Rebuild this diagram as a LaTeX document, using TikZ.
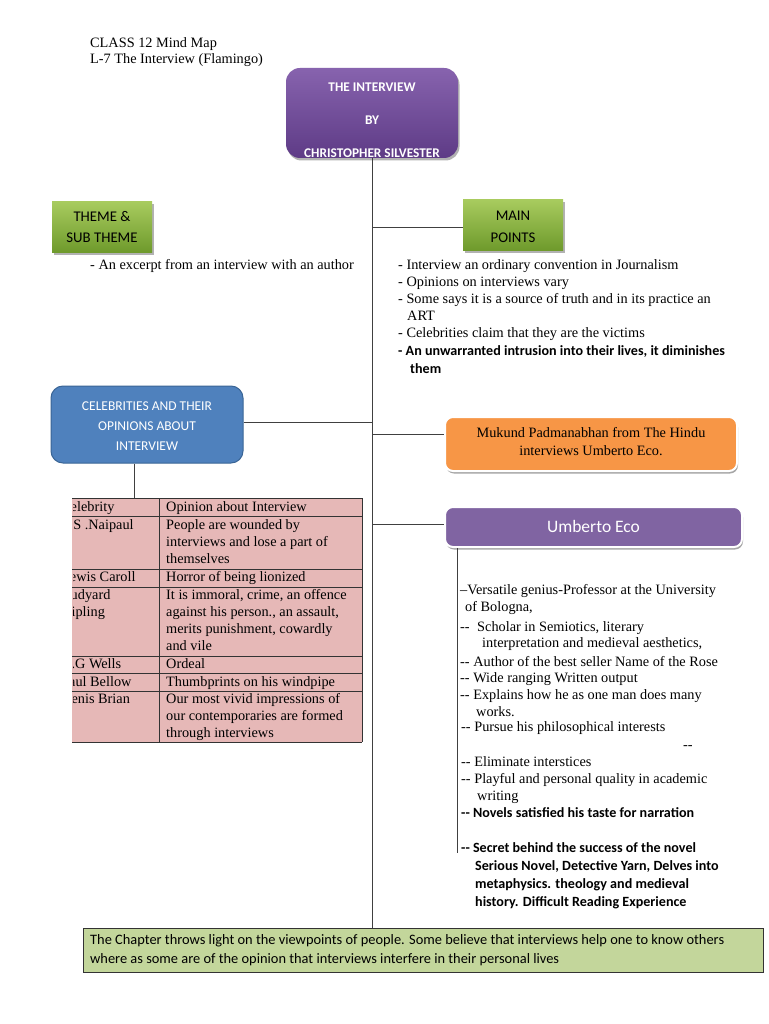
\documentclass[tikz,border=0pt]{standalone}
\usepackage{fontspec}
\setmainfont{Liberation Serif}
\newfontfamily\calfont{Carlito}
\usetikzlibrary{shadows}
\definecolor{ttltop}{HTML}{8763AE}
\definecolor{ttlbot}{HTML}{5E3B86}
\definecolor{grtop}{HTML}{A8CB5E}
\definecolor{grbot}{HTML}{6E9A2C}
\definecolor{celblue}{HTML}{4F81BD}
\definecolor{celedge}{HTML}{3A6596}
\definecolor{orng}{HTML}{F79646}
\definecolor{umbcol}{HTML}{8064A2}
\definecolor{pinkcell}{HTML}{E6B8B7}
\definecolor{sumgreen}{HTML}{C3D69B}
\begin{document}
\begin{tikzpicture}[x=1pt,y=-1pt,
  conn/.style={draw=black!75, line width=1pt},
  serif/.style={font=\fontsize{14.3}{17}\selectfont, inner sep=0pt, align=left, anchor=base west},
  calb/.style={font=\calfont\bfseries\fontsize{14.1}{18}\selectfont, inner sep=0pt, align=left, anchor=base west},
  softshadow/.style={drop shadow={shadow xshift=1.5pt, shadow yshift=-2.5pt, opacity=0.3, fill=black}},
  titlebox/.style={rectangle, rounded corners=14pt, top color=ttltop, bottom color=ttlbot, draw=none, minimum width=172pt, minimum height=90pt, softshadow},
  greenbox/.style={rectangle, top color=grtop, bottom color=grbot, draw=none, minimum width=100pt, minimum height=51pt, softshadow},
  greentext/.style={font=\calfont\fontsize{14.8}{21}\selectfont, text=black, align=center, inner sep=0pt, anchor=base},
  celbox/.style={rectangle, rounded corners=12pt, fill=celblue, draw=celedge, line width=1pt, minimum width=192pt, minimum height=77pt},
  whitetext/.style={font=\calfont\fontsize{13.5}{20}\selectfont, text=white, align=center, inner sep=0pt, anchor=base},
  popbox/.style={rectangle, rounded corners=8pt, draw=white, line width=2pt, drop shadow={shadow xshift=1pt, shadow yshift=-2.5pt, opacity=0.35, fill=black}},
  tabline/.style={draw=black!80, line width=0.9pt}
]
\fill[white] (0,0) rectangle (768,1024);
\useasboundingbox (0,0) rectangle (768,1024);

% header (anchor base = last line baseline)
\node[font=\fontsize{14.3}{16}\selectfont, inner sep=0pt, align=left, anchor=base west] (hdr) at (90,64) {CLASS 12 Mind Map\\L-7 The Interview (Flamingo)};

% title
\node[titlebox] (title) at (372,113) {};
\node[font=\calfont\bfseries\fontsize{13.3}{33}\selectfont, text=white, align=center, inner sep=0pt, anchor=base] (titletxt) at (372,158) {THE INTERVIEW\\BY\\CHRISTOPHER SILVESTER};

% trunk
\coordinate (trunkend) at (372,928);
\draw[conn] (title.south) -- (trunkend);

% theme
\node[greenbox] (theme) at (102,227) {};
\node[greentext] (themetxt) at (102,242.7) {THEME \&\\SUB THEME};
\node[serif] (excerpt) at (90,269.5) {- An excerpt from an interview with an author};

% main points
\node[greenbox] (mp) at (513,225) {};
\node[greentext] (mptxt) at (513,242) {MAIN\\POINTS};
\coordinate (jmp) at (372,228);
\draw[conn] (jmp) -- (jmp -| mp.west);
\node[serif] (mplist) at (398,337.5) {- Interview an ordinary convention in Journalism\\- Opinions on interviews vary\\- Some says it is a source of truth and in its practice an\\\hspace*{9pt}ART\\- Celebrities claim that they are the victims};
\node[calb] (mpbold) at (398,373.5) {- An unwarranted intrusion into their lives, it diminishes\\\hspace*{12pt}them};

% celebrities
\node[celbox] (cel) at (147,424.5) {};
\node[whitetext] (celtxt) at (147,450.5) {CELEBRITIES AND THEIR\\OPINIONS ABOUT\\INTERVIEW};
\coordinate (jcel) at (372,422);
\draw[conn] (cel.east |- jcel) -- (jcel);

% orange
\node[popbox, fill=orng, minimum width=292pt, minimum height=54pt] (org) at (591,444) {};
\node[font=\fontsize{14.3}{18}\selectfont, align=center, inner sep=0pt, anchor=base] (orgtxt) at (591,455.5) {Mukund Padmanabhan from The Hindu\\interviews Umberto Eco.};
\coordinate (jorg) at (372,434);
\draw[conn] (jorg) -- (jorg -| org.west);

% Umberto Eco
\node[popbox, fill=umbcol, minimum width=297pt, minimum height=40pt] (umb) at (593.5,527) {};
\node[font=\calfont\fontsize{17.5}{20}\selectfont, text=white, inner sep=0pt, anchor=base] (umbtxt) at (593.5,532.5) {Umberto Eco};
\coordinate (jumb) at (372,524);
\draw[conn] (jumb) -- (jumb -| umb.west);
\coordinate (ecoend) at (457,853);
\draw[conn] (umb.south -| ecoend) -- (ecoend);

% table
\coordinate (tabtop) at (134,498);
\draw[conn] (cel.south -| tabtop) -- (tabtop);
\fill[pinkcell] (72,498) rectangle (362,742);
\foreach \yy in {498,516,569,587,656,673,691,742} \draw[tabline] (72,\yy) -- (362,\yy);
\draw[tabline] (159,498) -- (159,742);
\draw[tabline] (362,498) -- (362,742);
\begin{scope}
\clip (73,490) rectangle (159,750);
\node[serif] (c0) at (61,511.5) {Celebrity};
\node[serif] (c1) at (61,529.5) {V.S .Naipaul};
\node[serif] (c2) at (61,581.5) {Lewis Caroll};
\node[serif] (c3) at (61,616.5) {Rudyard\\Kipling};
\node[serif] (c4) at (61,668.5) {H.G Wells};
\node[serif] (c5) at (61,686.5) {Saul Bellow};
\node[serif] (c6) at (61,703.5) {Denis Brian};
\end{scope}
\node[serif] (o0) at (166,511.5) {Opinion about Interview};
\node[serif] (o1) at (166,563.5) {People are wounded by\\interviews and lose a part of\\themselves};
\node[serif] (o2) at (166,581.5) {Horror of being lionized};
\node[serif] (o3) at (166,650.5) {It is immoral, crime, an offence\\against his person., an assault,\\merits punishment, cowardly\\and vile};
\node[serif] (o4) at (166,668.5) {Ordeal};
\node[serif] (o5) at (166,686.5) {Thumbprints on his windpipe};
\node[serif] (o6) at (166,737.5) {Our most vivid impressions of\\our contemporaries are formed\\through interviews};

% Eco list
\node[serif] (e1) at (460,594.5) {\textendash Versatile genius-Professor at the University};
\node[serif] (e2) at (465,611.5) {of Bologna,};
\node[serif] (e3) at (460,631) {-{}-\hspace{7.5pt}Scholar in Semiotics, literary};
\node[serif] (e4) at (482,647.5) {interpretation and medieval aesthetics,};
\node[serif] (e5) at (460,666) {-{}- Author of the best seller Name of the Rose};
\node[serif] (e6) at (460,682.5) {-{}- Wide ranging Written output};
\node[serif] (e7) at (460,699.5) {-{}- Explains how he as one man does many};
\node[serif] (e8) at (476,716.5) {works.};
\node[serif] (e9) at (461,731.5) {-{}- Pursue his philosophical interests};
\node[serif] (e10) at (683,749.5) {-{}-};
\node[serif] (e11) at (461,766.5) {-{}- Eliminate interstices};
\node[serif] (e12) at (461,783.5) {-{}- Playful and personal quality in academic};
\node[serif] (e13) at (477,800.5) {writing};
\node[calb] (e14) at (461,817.5) {-{}- Novels satisfied his taste for narration};
\node[calb] (e15) at (461,852) {-{}- Secret behind the success of the novel};
\node[calb] (e16) at (475,906) {Serious Novel, Detective Yarn, Delves into\\metaphysics. theology and medieval\\history. Difficult Reading Experience};

% summary
\node[rectangle, fill=sumgreen, draw=black!80, line width=1pt, minimum width=680pt, minimum height=44pt] (sum) at (423,950) {};
\node[font=\calfont\fontsize{14.4}{19}\selectfont, align=left, inner sep=0pt, anchor=base west] (sumtxt) at (90,963) {The Chapter throws light on the viewpoints of people. Some believe that interviews help one to know others\\where as some are of the opinion that interviews interfere in their personal lives};
\end{tikzpicture}
\end{document}
